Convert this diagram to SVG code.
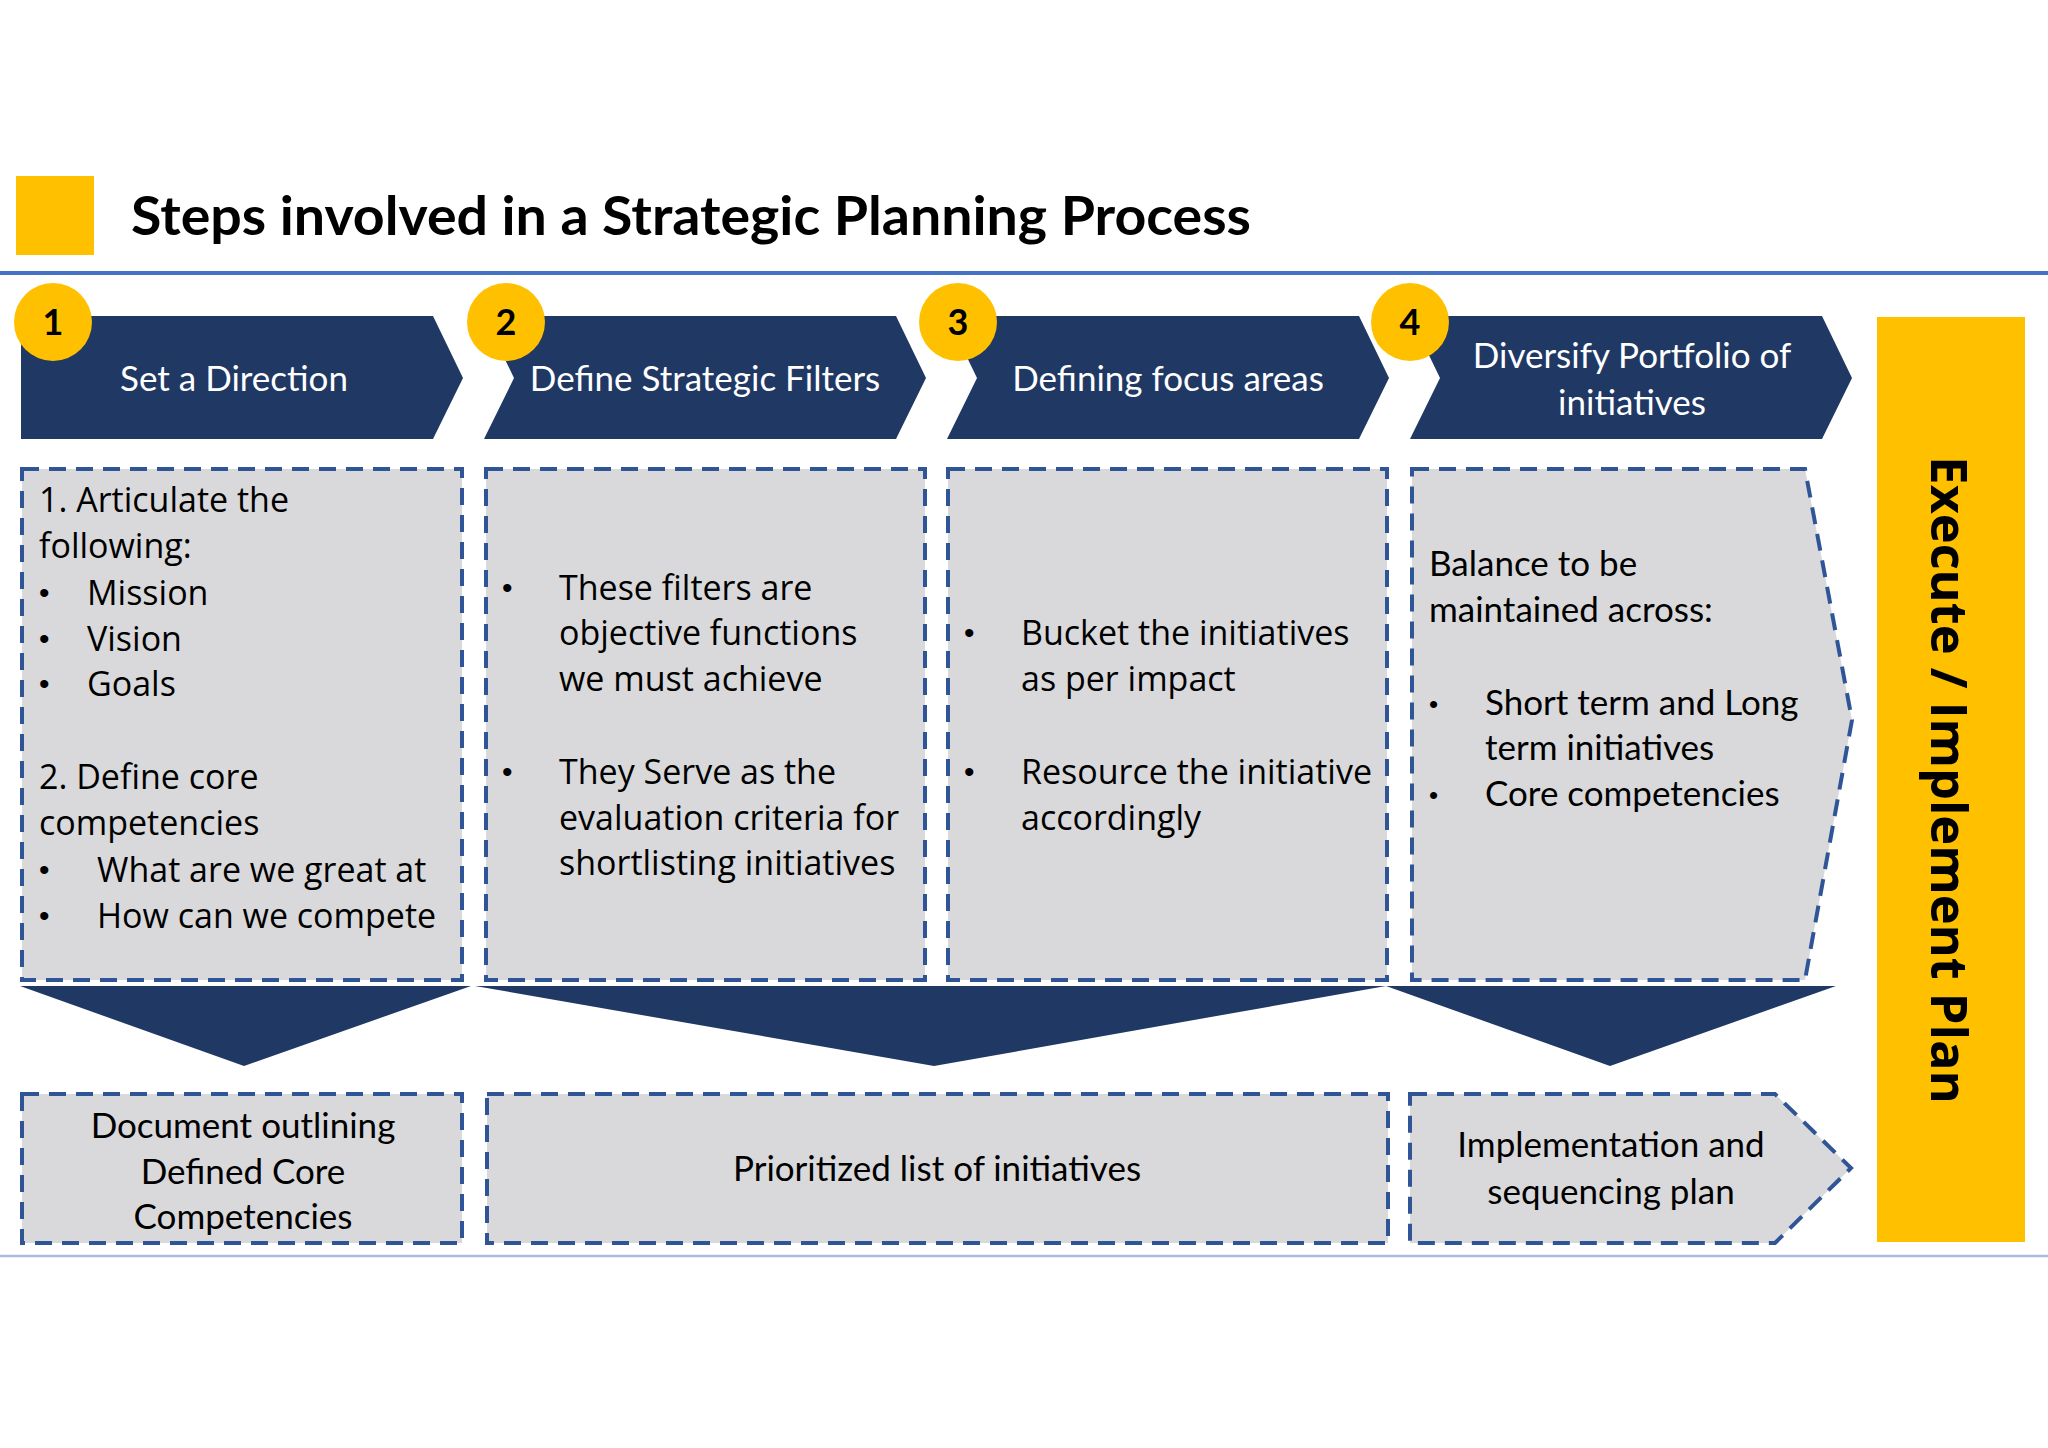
<svg xmlns="http://www.w3.org/2000/svg" width="2048" height="1448" viewBox="0 0 2048 1448">
<style>
.chev{fill:#203864;}
.num{fill:#FFC000;}
.numt{font-family:Lato,"Liberation Sans",sans-serif;font-weight:bold;font-size:36px;fill:#000;text-anchor:middle;}
.ct{font-family:Lato,"Liberation Sans",sans-serif;font-size:35px;fill:#fff;text-anchor:middle;}
.box{fill:#D9D9DB;stroke:#2F5597;stroke-width:4;stroke-dasharray:17 10;}
.tri{fill:#203864;}
.bt{font-family:"Open Sans","Liberation Sans",sans-serif;font-size:34px;fill:#000;}
.bu{font-family:"Liberation Sans",sans-serif;font-size:30px;fill:#000;}
.bu2{font-family:"Liberation Sans",sans-serif;font-size:26px;fill:#000;}
.ct2{font-family:Lato,"Liberation Sans",sans-serif;font-size:35px;fill:#000;}
.cc{font-family:Lato,"Liberation Sans",sans-serif;font-size:35px;fill:#000;text-anchor:middle;}
</style>
<rect width="2048" height="1448" fill="#fff"/>
<g id="title">
<rect x="16" y="176" width="78" height="79" fill="#FFC000"/>
<text x="131" y="235" font-family="Lato,'Liberation Sans',sans-serif" font-weight="bold" font-size="54" textLength="1120" lengthAdjust="spacingAndGlyphs">Steps involved in a Strategic Planning Process</text>
</g>
<line x1="0" y1="273" x2="2048" y2="273" stroke="#4472C4" stroke-width="4"/>
<line x1="0" y1="1256" x2="2048" y2="1256" stroke="#A9BCE0" stroke-width="2.5"/>

<g id="step1">
<path class="chev" d="M21,316 L433,316 L463,378 L433,439 L21,439 Z"/>
<text class="ct" x="234" y="391">Set a Direction</text>
<circle class="num" cx="53" cy="322" r="39"/>
<text class="numt" x="53" y="335">1</text>
</g>
<g id="step2">
<path class="chev" d="M484,316 L896,316 L926,378 L896,439 L484,439 L514,378 Z"/>
<text class="ct" x="705" y="391">Define Strategic Filters</text>
<circle class="num" cx="506" cy="322" r="39"/>
<text class="numt" x="506" y="335">2</text>
</g>
<g id="step3">
<path class="chev" d="M947,316 L1359,316 L1389,378 L1359,439 L947,439 L977,378 Z"/>
<text class="ct" x="1168" y="391">Defining focus areas</text>
<circle class="num" cx="958" cy="322" r="39"/>
<text class="numt" x="958" y="335">3</text>
</g>
<g id="step4">
<path class="chev" d="M1410,316 L1822,316 L1852,378 L1822,439 L1410,439 L1440,378 Z"/>
<text class="ct" x="1632" y="368">Diversify Portfolio of</text>
<text class="ct" x="1632" y="415">initiatives</text>
<circle class="num" cx="1410" cy="322" r="39"/>
<text class="numt" x="1410" y="335">4</text>
</g>

<g id="execute">
<rect x="1877" y="317" width="148" height="925" fill="#FFC000"/>
<text transform="translate(1949,780) rotate(90)" x="0" y="0" dy="18" text-anchor="middle" font-family="'Open Sans','Liberation Sans',sans-serif" font-weight="bold" font-size="50.5" fill="#000">Execute / Implement Plan</text>
</g>

<g id="box1">
<rect class="box" x="22" y="469" width="440" height="511"/>
<text class="bt" x="39" y="512">1. Articulate the</text>
<text class="bt" x="39" y="558">following:</text>
<text class="bu" x="39" y="603">•</text><text class="bt" x="87" y="605">Mission</text>
<text class="bu" x="39" y="649">•</text><text class="bt" x="87" y="651">Vision</text>
<text class="bu" x="39" y="694">•</text><text class="bt" x="87" y="696">Goals</text>
<text class="bt" x="39" y="789">2. Define core</text>
<text class="bt" x="39" y="835">competencies</text>
<text class="bu" x="39" y="880">•</text><text class="bt" x="97" y="882">What are we great at</text>
<text class="bu" x="39" y="926">•</text><text class="bt" x="97" y="928">How can we compete</text>
</g>
<g id="box2">
<rect class="box" x="486" y="469" width="439" height="511"/>
<text class="bu" x="502" y="598">•</text><text class="bt" x="559" y="600">These filters are</text>
<text class="bt" x="559" y="645">objective functions</text>
<text class="bt" x="559" y="691">we must achieve</text>
<text class="bu" x="502" y="782">•</text><text class="bt" x="559" y="784">They Serve as the</text>
<text class="bt" x="559" y="830">evaluation criteria for</text>
<text class="bt" x="559" y="875">shortlisting initiatives</text>
</g>
<g id="box3">
<rect class="box" x="948" y="469" width="439" height="511"/>
<text class="bu" x="964" y="643">•</text><text class="bt" x="1021" y="645">Bucket the initiatives</text>
<text class="bt" x="1021" y="691">as per impact</text>
<text class="bu" x="964" y="782">•</text><text class="bt" x="1021" y="784">Resource the initiative</text>
<text class="bt" x="1021" y="830">accordingly</text>
</g>
<g id="box4">
<path class="box" d="M1412,469 L1805,469 L1852,720 L1805,980 L1412,980 Z"/>
<text class="ct2" x="1429" y="576">Balance to be</text>
<text class="ct2" x="1429" y="622">maintained across:</text>
<text class="bu2" x="1429" y="713">•</text><text class="ct2" x="1485" y="715">Short term and Long</text>
<text class="ct2" x="1485" y="760">term initiatives</text>
<text class="bu2" x="1429" y="804">•</text><text class="ct2" x="1485" y="806">Core competencies</text>
</g>

<g id="connectors">
<path class="tri" d="M20,986 L471,986 L244,1066 Z"/>
<path class="tri" d="M475,986 L1386,986 L934,1066 Z"/>
<path class="tri" d="M1386,986 L1836,986 L1610,1066 Z"/>
</g>

<g id="out1">
<rect class="box" x="22" y="1094" width="440" height="149"/>
<text class="cc" x="243" y="1138">Document outlining</text>
<text class="cc" x="243" y="1184">Defined Core</text>
<text class="cc" x="243" y="1229">Competencies</text>
</g>
<g id="out2">
<rect class="box" x="487" y="1094" width="901" height="149"/>
<text class="cc" x="937" y="1181">Prioritized list of initiatives</text>
</g>
<g id="out3">
<path class="box" d="M1410,1094 L1775,1094 L1851,1168 L1775,1243 L1410,1243 Z"/>
<text class="cc" x="1611" y="1157">Implementation and</text>
<text class="cc" x="1611" y="1204">sequencing plan</text>
</g>
</svg>
